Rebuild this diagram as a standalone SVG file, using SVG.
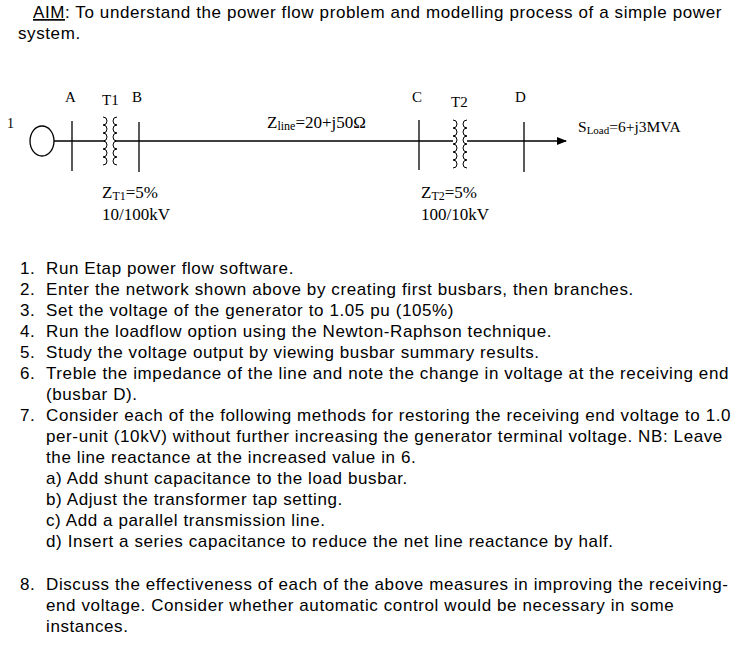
<svg xmlns="http://www.w3.org/2000/svg" width="754" height="645" viewBox="0 0 754 645">
<style>
.t{font-family:"Liberation Sans",Arial,sans-serif;font-size:17px;letter-spacing:0.6px;fill:#000}
.s{font-family:"Liberation Serif","Times New Roman",serif;font-size:15px;fill:#000}
.b{font-size:17px}
.l{stroke:#000;stroke-width:1.3;fill:none}
.c{stroke:#000;stroke-width:1;fill:none}
</style>
<defs><marker id="ah" markerWidth="10" markerHeight="8" refX="9" refY="4" orient="auto" markerUnits="userSpaceOnUse"><path d="M0,0 L10,4 L0,8 z" fill="#000"/></marker></defs>
<rect width="754" height="645" fill="#fff"/>
<text class="t" x="33" y="18"><tspan text-decoration="underline">AIM</tspan>: To understand the power flow problem and modelling process of a simple power</text>
<text class="t" x="18" y="39">system.</text>
<g id="connectors">
<line class="l" x1="54" y1="141" x2="103" y2="141"/>
<line class="l" x1="117" y1="141" x2="453" y2="141"/>
<line class="l" x1="467" y1="141" x2="566" y2="141" marker-end="url(#ah)"/>
</g>
<g id="gen"><ellipse class="l" cx="42" cy="141" rx="12" ry="15"/><text class="s" x="7" y="128" style="font-size:14px">1</text></g>
<g id="busA"><line class="l" x1="72" y1="121" x2="72" y2="171"/><text class="s" x="65" y="102">A</text></g>
<g id="T1"><path class="c" d="M103,117 a4,4 0 0 1 0,8 a4,4 0 0 1 0,8 a4,4 0 0 1 0,8 a4,4 0 0 1 0,8 a4,4 0 0 1 0,8 a4,4 0 0 1 0,8 M117,117 a4,4 0 0 0 0,8 a4,4 0 0 0 0,8 a4,4 0 0 0 0,8 a4,4 0 0 0 0,8 a4,4 0 0 0 0,8 a4,4 0 0 0 0,8"/><text class="s" x="102" y="105">T1</text></g>
<g id="busB"><line class="l" x1="139" y1="122" x2="139" y2="172"/><text class="s" x="132" y="102">B</text></g>
<g id="line"><text class="s b" x="267" y="128">Z<tspan style="font-size:12px" dy="2">line</tspan><tspan dy="-2">=20+j50Ω</tspan></text></g>
<g id="busC"><line class="l" x1="419" y1="120" x2="419" y2="170"/><text class="s" x="412" y="102">C</text></g>
<g id="T2"><path class="c" d="M453,120 a4,4 0 0 1 0,8 a4,4 0 0 1 0,8 a4,4 0 0 1 0,8 a4,4 0 0 1 0,8 a4,4 0 0 1 0,8 a4,4 0 0 1 0,8 M467,120 a4,4 0 0 0 0,8 a4,4 0 0 0 0,8 a4,4 0 0 0 0,8 a4,4 0 0 0 0,8 a4,4 0 0 0 0,8 a4,4 0 0 0 0,8"/><text class="s" x="451" y="107">T2</text></g>
<g id="busD"><line class="l" x1="524" y1="122" x2="524" y2="172"/><text class="s" x="515" y="102">D</text></g>
<g id="load"><text class="s" x="578" y="132" style="font-size:15.5px">S<tspan style="font-size:11px" dy="2">Load</tspan><tspan dy="-2">=6+j3MVA</tspan></text></g>
<g id="zt1"><text class="s b" x="102" y="198">Z<tspan style="font-size:12px" dy="2">T1</tspan><tspan dy="-2">=5%</tspan></text><text class="s b" x="102" y="220">10/100kV</text></g>
<g id="zt2"><text class="s b" x="421" y="198">Z<tspan style="font-size:12px" dy="2">T2</tspan><tspan dy="-2">=5%</tspan></text><text class="s b" x="421" y="220">100/10kV</text></g>
<g>
<text class="t" x="20" y="274">1.</text><text class="t" x="46" y="274">Run Etap power flow software.</text>
<text class="t" x="20" y="295">2.</text><text class="t" x="46" y="295">Enter the network shown above by creating first busbars, then branches.</text>
<text class="t" x="20" y="316">3.</text><text class="t" x="46" y="316">Set the voltage of the generator to 1.05 pu (105%)</text>
<text class="t" x="20" y="337">4.</text><text class="t" x="46" y="337">Run the loadflow option using the Newton-Raphson technique.</text>
<text class="t" x="20" y="358">5.</text><text class="t" x="46" y="358">Study the voltage output by viewing busbar summary results.</text>
<text class="t" x="20" y="379">6.</text><text class="t" x="46" y="379">Treble the impedance of the line and note the change in voltage at the receiving end</text>
<text class="t" x="46" y="400">(busbar D).</text>
<text class="t" x="20" y="421">7.</text><text class="t" x="46" y="421">Consider each of the following methods for restoring the receiving end voltage to 1.0</text>
<text class="t" x="46" y="442">per-unit (10kV) without further increasing the generator terminal voltage.  NB: Leave</text>
<text class="t" x="46" y="463">the line reactance at the increased value in 6.</text>
<text class="t" x="46" y="484">a) Add shunt capacitance to the load busbar.</text>
<text class="t" x="46" y="505">b) Adjust the transformer tap setting.</text>
<text class="t" x="46" y="526">c) Add a parallel transmission line.</text>
<text class="t" x="46" y="547">d) Insert a series capacitance to reduce the net line reactance by half.</text>
<text class="t" x="20" y="590">8.</text><text class="t" x="46" y="590">Discuss the effectiveness of each of the above measures in improving the receiving-</text>
<text class="t" x="46" y="611">end voltage.  Consider whether automatic control would be necessary in some</text>
<text class="t" x="46" y="632">instances.</text>
</g>
</svg>
